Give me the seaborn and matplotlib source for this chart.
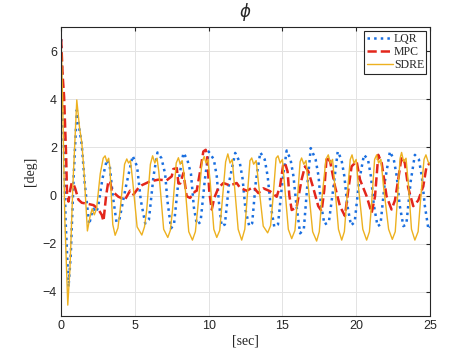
import numpy as np
import pandas as pd
import matplotlib
matplotlib.use("Agg")
import matplotlib.pyplot as plt
import seaborn as sns

# values (time [sec], angle [deg])
lqr_t = [0.0, 0.15, 0.3, 0.5, 0.65, 0.85, 1.06, 1.25, 1.4, 1.6, 1.9, 2.05, 2.2, 2.35, 2.5,
         2.8, 3.1, 3.3, 3.5, 3.75, 3.95, 4.4, 4.85, 5.15, 5.4, 5.7, 5.95, 6.26, 6.53, 6.8,
         7.05, 7.2, 7.45, 7.65, 7.95, 8.29, 8.55, 8.8, 9.0, 9.2, 9.45, 9.75, 10.0, 10.35,
         10.55, 10.7, 10.88, 11.1, 11.4, 11.8, 12.1, 12.3, 12.5, 12.75, 12.95, 13.2, 13.5,
         13.8, 14.0, 14.2, 14.45, 14.7, 15.0, 15.29, 15.55, 15.75, 15.95, 16.2, 16.45, 16.7,
         16.92, 17.25, 17.45, 17.6, 17.85, 18.15, 18.45, 18.75, 19.0, 19.2, 19.4, 19.65, 19.9,
         20.2, 20.53, 20.8, 21.0, 21.2, 21.45, 21.65, 21.95, 22.29, 22.55, 22.75, 22.95, 23.2,
         23.4, 23.7, 23.98, 24.25, 24.45, 24.65, 24.9, 25.0]
lqr_v = [6.5, 3.0, -1.0, -3.8, -2.5, 0.8, 3.55, 2.7, 2.1, 0.5, -1.2, -0.8, -0.55, -0.7, -0.5,
         0.7, 1.49, 1.2, 0.0, -1.1, -1.0, 0.4, 1.65, 1.2, -0.2, -1.16, -1.0, 0.8, 1.79, 1.55,
         0.9, -0.2, -1.36, -1.2, 0.6, 1.77, 1.5, 0.9, -0.5, -1.2, -1.1, 0.7, 1.83, 1.5,
         0.8, -0.3, -1.27, -1.2, 0.6, 1.77, 1.4, 0.7, -0.6, -1.27, -1.15, 0.6, 1.79,
         1.5, 0.8, -0.4, -1.3, -1.2, 0.6, 1.87, 1.5, 0.8, -0.4, -1.57, -1.4, 0.5,
         1.97, 1.5, 0.8, -0.3, -1.2, -1.1, 0.3, 1.83, 1.5, 0.8, -0.4, -1.24, -1.1,
         0.6, 1.69, 1.5, 0.8, -0.4, -1.27, -1.2, 0.6, 1.83, 1.5, 0.8, -0.4, -1.27,
         -1.2, 0.6, 1.69, 1.5, 0.8, -0.4, -1.4, -1.3]

mpc_t = [0.0, 0.1, 0.2, 0.34, 0.4, 0.5, 0.6, 0.72, 0.85, 0.95, 1.17, 1.4, 1.85, 2.2, 2.53,
         2.75, 2.87, 3.05, 3.2, 3.32, 3.43, 3.88, 4.33, 4.67, 4.9, 5.24, 5.47, 6.03, 6.6,
         7.15, 7.5, 7.6, 7.84, 7.95, 8.07, 8.29, 8.51, 8.74, 9.08, 9.19, 9.42, 9.64, 9.8,
         9.9, 10.05, 10.21, 10.38, 10.66, 11.0, 11.45, 11.9, 12.13, 12.58, 13.03, 13.37,
         13.71, 14.16, 14.61, 14.84, 15.06, 15.18, 15.35, 15.47, 15.63, 15.96, 16.3, 16.53,
         16.76, 17.09, 17.43, 17.66, 17.84, 18.0, 18.24, 18.56, 18.9, 19.24, 19.47, 19.69,
         20.03, 20.26, 20.71, 21.05, 21.28, 21.5, 21.73, 22.06, 22.4, 22.63, 22.85, 23.08,
         23.3, 23.53, 23.87, 24.21, 24.55, 24.77, 25.0]
mpc_v = [6.5, 5.0, 4.1, 1.6, 0.0, -0.25, 0.2, 0.53, 0.45, 0.3, -0.17, -0.3, -0.35, -0.4, -0.58,
         -0.8, -1.06, 0.0, 0.59, 0.59, 0.2, -0.05, -0.17, 0.2, 0.04, 0.32, 0.43, 0.59, 0.66,
         0.63, 0.8, 1.1, 1.14, 0.5, 0.5, 0.94, -0.03, -0.1, 0.17, 0.2, 1.0, 1.83, 1.9,
         1.6, 0.11, -0.58, -0.1, 0.32, 0.52, 0.42, 0.52, 0.32, 0.2, 0.35, 0.1,
         0.3, 0.18, -0.05, 0.39, 1.3, 1.35, 1.0, 0.0, -0.6, -0.5, 0.66, 1.21,
         1.0, 0.32, -0.44, -0.65, 0.25, 1.62, 1.4, 0.39, -0.44, -0.85, 0.25, 1.21,
         1.42, 0.66, -0.03, -0.72, -0.03, 1.69, 1.35, -0.03, -0.58, -0.2, 0.66, 1.62,
         1.35, 0.32, -0.44, -0.2, 0.39, 1.21, 1.35]

sdre_t = [0.0, 0.1, 0.25, 0.45, 0.6, 0.8, 1.06, 1.25, 1.4, 1.55, 1.78, 1.95, 2.1, 2.25, 2.4,
          2.65, 2.85, 2.98, 3.1, 3.22, 3.3, 3.5, 3.66, 3.85, 4.0, 4.3, 4.45, 4.57, 4.7, 4.85,
          5.15, 5.47, 5.65, 5.8, 6.05, 6.2, 6.35, 6.5, 6.62, 6.95, 7.23, 7.4, 7.55, 7.8,
          7.95, 8.07, 8.2, 8.35, 8.65, 8.9, 9.1, 9.25, 9.55, 9.7, 9.82, 9.95, 10.1, 10.35,
          10.55, 10.75, 10.9, 11.15, 11.3, 11.45, 11.6, 11.75, 12.0, 12.24, 12.45, 12.6,
          12.8, 12.92, 13.05, 13.22, 13.4, 13.7, 14.0, 14.2, 14.35, 14.57, 14.7, 14.85,
          15.0, 15.15, 15.4, 15.63, 15.85, 16.0, 16.2, 16.3, 16.45, 16.6, 16.75, 17.05,
          17.32, 17.5, 17.65, 17.95, 18.11, 18.25, 18.4, 18.55, 18.8, 19.02, 19.2, 19.35,
          19.6, 19.72, 19.85, 20.0, 20.15, 20.45, 20.71, 20.9, 21.05, 21.25, 21.39, 21.52,
          21.68, 21.85, 22.2, 22.45, 22.65, 22.78, 22.98, 23.08, 23.22, 23.38, 23.55, 23.75,
          23.98, 24.2, 24.35, 24.6, 24.73, 24.88, 25.0]
sdre_v = [6.5, 4.0, -1.0, -4.55, -3.0, 0.5, 3.97, 2.8, 2.2, 1.0, -1.47, -0.9, -0.55, -0.8, -0.55,
          0.9, 1.55, 1.65, 1.4, 1.55, 1.2, -1.2, -1.65, -1.35, -0.6, 1.3, 1.52, 1.35, 1.45, 0.6,
          -1.3, -1.64, -1.3, -0.6, 1.3, 1.65, 1.35, 1.55, 1.0, -1.4, -1.74, -1.45, -0.6, 1.35,
          1.57, 1.3, 1.45, 0.8, -1.5, -1.85, -1.5, -0.6, 1.4, 1.62, 1.35, 1.5, 0.6, -1.4,
          -1.74, -1.45, -0.4, 1.4, 1.73, 1.35, 1.5, 0.4, -1.4, -1.85, -1.4, -0.2,
          1.45, 1.56, 1.3, 1.45, 0.4, -1.27, -1.55, -1.25, -0.2, 1.55, 1.65, 1.35,
          1.5, 0.4, -1.4, -1.79, -1.45, -0.3, 1.4, 1.56, 1.3, 1.45, 0.4, -1.5,
          -1.89, -1.5, -0.3, 1.5, 1.69, 1.35, 1.5, 0.4, -1.4, -1.85, -1.5, -0.3,
          1.5, 1.69, 1.35, 1.5, 0.4, -1.4, -1.85, -1.5, -0.3, 1.5, 1.69, 1.35,
          1.5, 0.4, -1.4, -1.82, -1.5, -0.3, 1.55, 1.79, 1.4, 1.55, 0.4, -1.4,
          -1.85, -1.5, -0.3, 1.5, 1.69, 1.4, 1.3]

series_names = ["LQR", "MPC", "SDRE"]
x_ticks = [0, 5, 10, 15, 20, 25]
y_ticks = [-4, -2, 0, 2, 4, 6]

sns.set_style("whitegrid", {"grid.color": "#e3e3e3", "axes.edgecolor": "#262626"})
plt.rcParams['font.family'] = ['Liberation Sans', 'DejaVu Sans']

fig = plt.figure(figsize=(4.74, 3.55), dpi=100)
ax = fig.add_axes([0.129, 0.110, 0.778, 0.814])

data = {
    "LQR": (lqr_t, lqr_v, "#1a6fe0", ":", 1.8),
    "MPC": (mpc_t, mpc_v, "#e3261b", "--", 1.8),
    "SDRE": (sdre_t, sdre_v, "#edb120", "-", 1.0),
}
for name in series_names:
    t, v, c, ls, lw = data[name]
    df = pd.DataFrame({"t": t, "v": v})
    sns.lineplot(data=df, x="t", y="v", ax=ax, color=c, linestyle=ls, linewidth=lw,
                 sort=False, estimator=None, label=name)

ax.set_xlim(0, 25)
ax.set_ylim(-5, 7)
ax.set_xticks(x_ticks)
ax.set_yticks(y_ticks)
ax.tick_params(direction="in", length=3, labelsize=9, top=True, right=True,
               colors="#262626", pad=3)
for s in ax.spines.values():
    s.set_linewidth(0.8)
    s.set_color("#262626")
ax.grid(True, color="#e3e3e3", linewidth=0.7)

ax.set_title(r"$\phi$", fontsize=12, pad=7)
ax.set_xlabel("[sec]", family="Liberation Serif", fontsize=10, labelpad=2)
ax.set_ylabel("[deg]", family="Liberation Serif", fontsize=10, labelpad=4)

leg = ax.legend(loc="upper right", prop={"family": "Liberation Serif", "size": 8.5},
                frameon=True, fancybox=False, framealpha=1, edgecolor="#262626",
                handlelength=2.2, handletextpad=0.1, borderpad=0.2, labelspacing=0.1,
                borderaxespad=0.3)
leg.get_frame().set_linewidth(0.8)

fig.savefig("out.png", dpi=100)
